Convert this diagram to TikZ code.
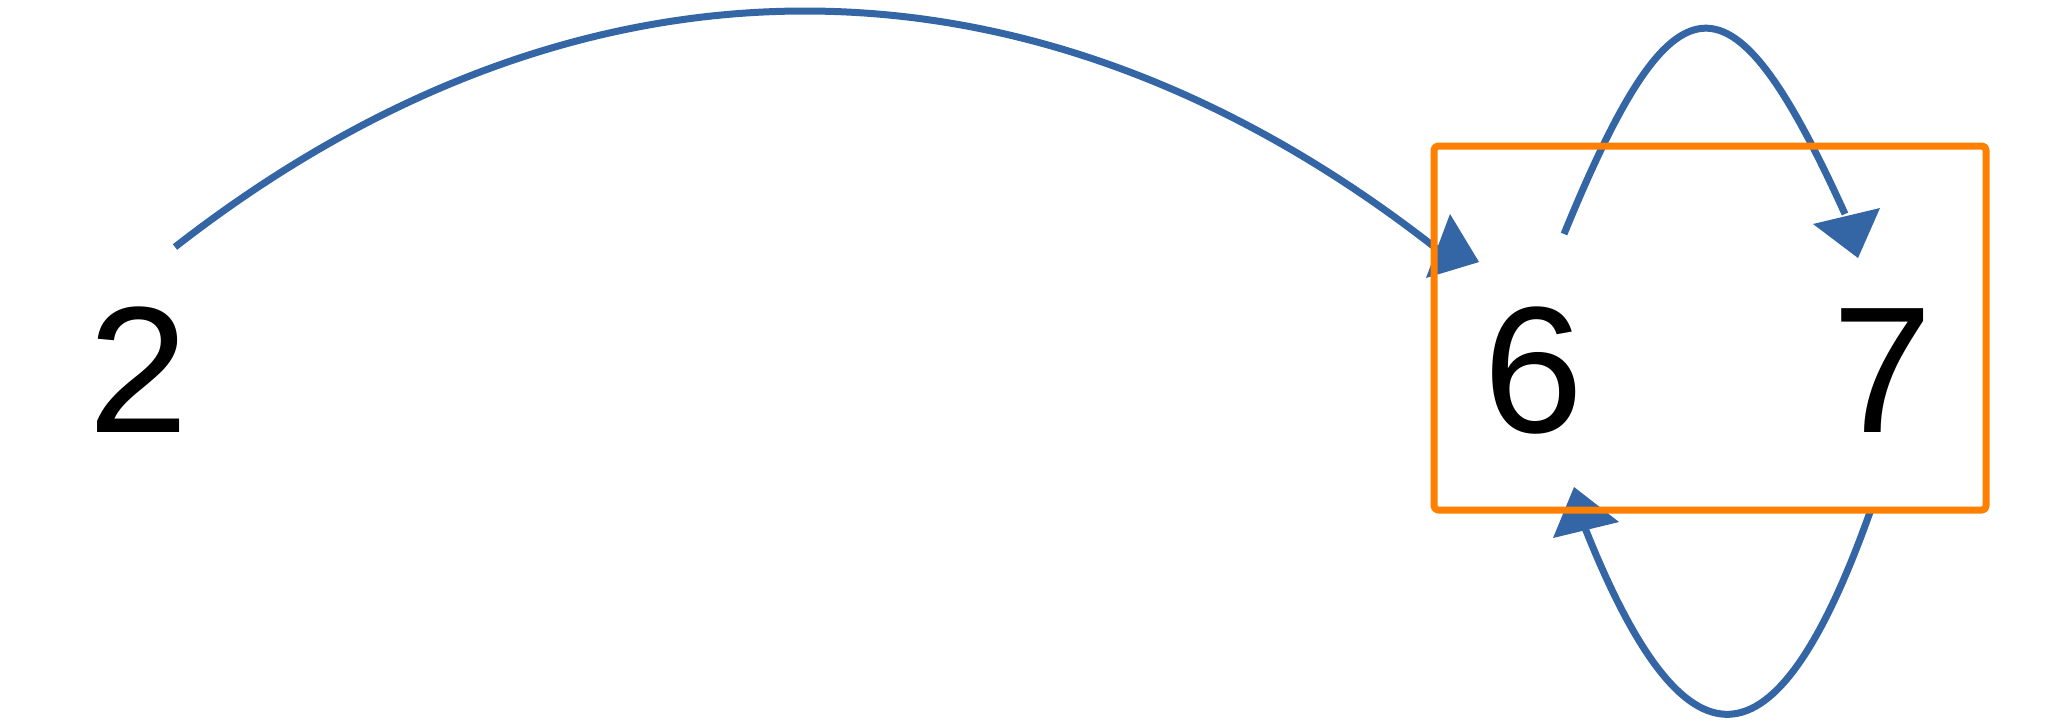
\documentclass[tikz,border=0pt]{standalone}
\usepackage{fontspec}
\setmainfont{Liberation Sans}
\usetikzlibrary{calc}
\definecolor{edgeblue}{RGB}{52,101,164}
\definecolor{boxorange}{RGB}{255,128,0}
\tikzset{
  lbl/.style={anchor=base, inner sep=0pt, font=\fontsize{90}{100}\selectfont, text=black},
  edgeline/.style={draw=edgeblue, line width=3.5pt},
  tipfill/.style={fill=edgeblue},
  clusterbox/.style={draw=boxorange, line width=3.5pt, line join=round, rounded corners=2pt}
}
\begin{document}
\begin{tikzpicture}[x=0.5pt, y=-0.5pt]
\useasboundingbox (0,0) rectangle (2048,720);
% nodes
\node[lbl] (n2) at (139,432) {2};
\node[lbl] (n6) at (1534,432) {6};
\node[lbl] (n7) at (1883,432) {7};
% connector end points
\coordinate (a26) at (175,247);
\coordinate (b26) at (1437,249);
\coordinate (a67) at (1564,234);
\coordinate (b67) at (1845,214);
\coordinate (a76) at (1870,512);
\coordinate (b76) at (1585,528);
% 2 -> 6
\draw[edgeline] (a26) .. controls (579,-68) and (1033,-68) .. (b26);
\fill[tipfill] (1450,214) -- (1479,262) -- (1426,278) -- cycle;
% 6 -> 7
\draw[edgeline] (a67) .. controls (1675,-37) and (1731,-37) .. (b67);
\fill[tipfill] (1813,224) -- (1880,208) -- (1858,258) -- cycle;
% 7 -> 6
\draw[edgeline] (a76) .. controls (1775,779) and (1685,779) .. (b76);
\fill[tipfill] (1574,487) -- (1619,522) -- (1553,538) -- cycle;
% cluster box
\draw[clusterbox] (1434,146) rectangle (1986,510);
\end{tikzpicture}
\end{document}
